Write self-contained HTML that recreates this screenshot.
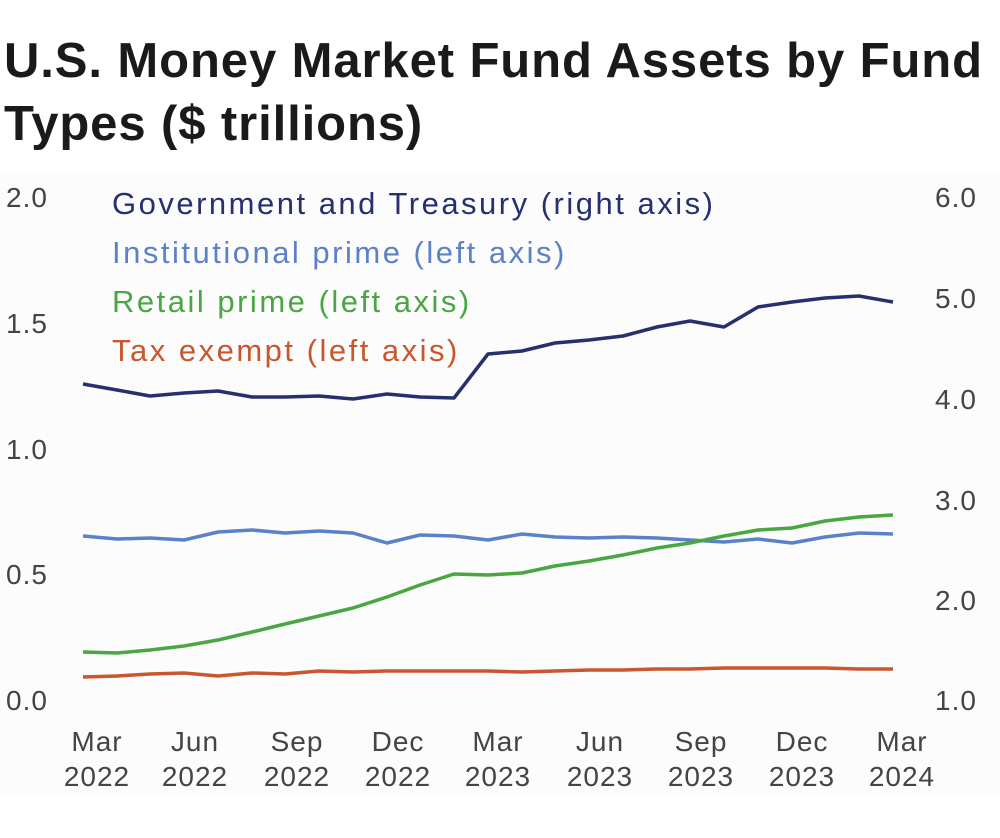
<!DOCTYPE html>
<html><head><meta charset="utf-8"><style>
html,body{margin:0;padding:0;background:#fff;width:1000px;height:838px;overflow:hidden}
h1{position:absolute;left:4px;top:30px;margin:0;font:bold 49px/63px "Liberation Sans",sans-serif;color:#1a1a1a;letter-spacing:0.9px;white-space:nowrap}
.panel{position:absolute;left:0;top:172px;width:1000px;height:625px;background:#fcfcfc}
svg{position:absolute;left:0;top:0}
text{font-family:"Liberation Sans",sans-serif}
</style></head><body>
<h1>U.S. Money Market Fund Assets by Fund<br>Types ($ trillions)</h1>
<div class="panel"></div>
<svg width="1000" height="838" viewBox="0 0 1000 838">
<g font-size="28" fill="#444" letter-spacing="1">
<text x="6" y="207">2.0</text><text x="6" y="333">1.5</text><text x="6" y="459">1.0</text><text x="6" y="584">0.5</text><text x="6" y="710">0.0</text>
<text x="935" y="207">6.0</text><text x="935" y="308">5.0</text><text x="935" y="409">4.0</text><text x="935" y="510">3.0</text><text x="935" y="610">2.0</text><text x="935" y="710">1.0</text>
</g>
<g font-size="28" fill="#444" text-anchor="middle" letter-spacing="1">
<text x="97" y="751">Mar</text><text x="97" y="786">2022</text>
<text x="195" y="751">Jun</text><text x="195" y="786">2022</text>
<text x="297" y="751">Sep</text><text x="297" y="786">2022</text>
<text x="398" y="751">Dec</text><text x="398" y="786">2022</text>
<text x="498" y="751">Mar</text><text x="498" y="786">2023</text>
<text x="600" y="751">Jun</text><text x="600" y="786">2023</text>
<text x="701" y="751">Sep</text><text x="701" y="786">2023</text>
<text x="802" y="751">Dec</text><text x="802" y="786">2023</text>
<text x="902" y="751">Mar</text><text x="902" y="786">2024</text>
</g>
<g font-size="31" letter-spacing="2.5">
<text x="112" y="214" fill="#26306e">Government and Treasury (right axis)</text>
<text x="112" y="263" fill="#5b82c8">Institutional prime (left axis)</text>
<text x="112" y="312" fill="#4aa642">Retail prime (left axis)</text>
<text x="112" y="361" fill="#c8572e">Tax exempt (left axis)</text>
</g>
<g fill="none" stroke-width="3.5" stroke-linejoin="round">
<polyline stroke="#26306e" points="83,384 117,390 150,396 184,393 218,391 252,397 285,397 319,396 353,399 387,394 420,397 454,398 488,354 522,351 555,343 589,340 623,336 657,327 690,321 724,327 758,307 792,302 825,298 859,296 893,302"/>
<polyline stroke="#5b82c8" points="83,536 117,539 150,538 184,540 218,532 252,530 285,533 319,531 353,533 387,543 420,535 454,536 488,540 522,534 555,537 589,538 623,537 657,538 690,540 724,542 758,539 792,543 825,537 859,533 893,534"/>
<polyline stroke="#4aa642" points="83,652 117,653 150,650 184,646 218,640 252,632 285,624 319,616 353,608 387,597 420,585 454,574 488,575 522,573 555,566 589,561 623,555 657,548 690,543 724,536 758,530 792,528 825,521 859,517 893,515"/>
<polyline stroke="#c8572e" points="83,677 117,676 150,674 184,673 218,676 252,673 285,674 319,671 353,672 387,671 420,671 454,671 488,671 522,672 555,671 589,670 623,670 657,669 690,669 724,668 758,668 792,668 825,668 859,669 893,669"/>
</g>
</svg>
</body></html>
